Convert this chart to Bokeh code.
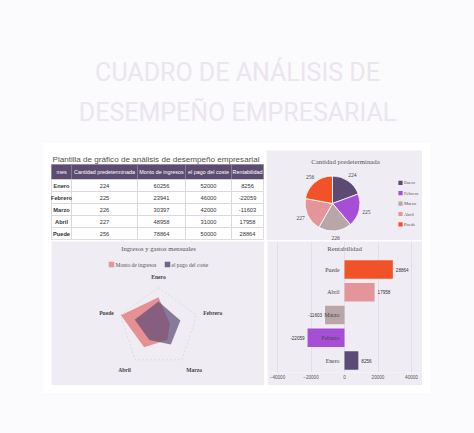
import numpy as np
import pandas as pd
from bokeh.plotting import figure
from bokeh.models import ColumnDataSource, Range1d, Spacer, FixedTicker
from bokeh.layouts import row, column
from bokeh.embed import file_html
from bokeh.resources import INLINE
from bokeh.core.properties import value

# ---------------- data ----------------
title_lines = ["CUADRO DE ANÁLISIS DE", "DESEMPEÑO EMPRESARIAL"]
table_title = "Plantilla de gráfico de análisis de desempeño empresarial"
headers = ["mes", "Cantidad predeterminada", "Monto de ingresos", "el pago del coste", "Rentabilidad"]
months = ["Enero", "Febrero", "Marzo", "Abril", "Puede"]
cantidad = [224, 225, 226, 227, 256]
ingresos = [60256, 23941, 30397, 48958, 78864]
coste = [52000, 46000, 42000, 31000, 50000]
rentabilidad = [8256, -22059, -11603, 17958, 28864]
pie_title = "Cantidad predeterminada"
radar_title = "Ingresos y gastos mensuales"
radar_series = ["Monto de ingresos", "el pago del coste"]
radar_max = 80000
bar_title = "Rentabilidad"
bar_ticks = [-40000, -20000, 0, 20000, 40000]

# ---------------- styles ----------------
OUTER = "#fbfafd"
PANEL = "#efedf3"
HEAD = "#5b4c70"
month_colors = ["#5c4a74", "#a64fd6", "#b8a6a8", "#e3959a", "#f25227"]
series_colors = ["#e3868a", "#5c4a74"]
series_alpha = [0.9, 0.7]
SERIF = value("Liberation Serif")
SANS = value("Liberation Sans")


def make_fig(w, h, xr, yr, bg):
    return figure(frame_width=w, frame_height=h, x_range=xr, y_range=yr,
                  x_axis_type=None, y_axis_type=None, title=None,
                  toolbar_location=None, output_backend="svg", min_border=0,
                  background_fill_color=bg, border_fill_color=bg,
                  outline_line_color=None)


# ---------------- title band ----------------
tfig = make_fig(474, 143, Range1d(0, 474), Range1d(143, 0), OUTER)
tfig.text(x=[237, 237], y=[72, 112], text=title_lines, text_align="center",
          text_baseline="middle", text_font=value("Roboto"), text_font_size="25px",
          text_color="#ebe5ef")

# ---------------- table ----------------
tab = make_fig(215, 90, Range1d(0, 215), Range1d(90, 0), "#ffffff")
tab.text(x=[2], y=[9], text=[table_title], text_font=SANS, text_font_size="8.1px",
         text_color="#505050", text_baseline="middle")
edges = [1, 21, 87, 135, 181, 213]
head_top, head_h, row_h = 14, 15, 12
col_vals = [months, cantidad, ingresos, coste, rentabilidad]
head_rows, body_rows = [], []
for j in range(len(headers)):
    xa, xb = edges[j], edges[j + 1]
    head_rows.append(dict(x=(xa + xb) / 2, y=head_top + head_h / 2, w=xb - xa,
                          h=head_h, text=headers[j]))
    for i, v in enumerate(col_vals[j]):
        body_rows.append(dict(x=(xa + xb) / 2, y=head_top + head_h + row_h * i + row_h / 2,
                              w=xb - xa, h=row_h, text=str(v),
                              style="bold" if j == 0 else "normal"))
hsrc = ColumnDataSource(pd.DataFrame(head_rows))
bsrc = ColumnDataSource(pd.DataFrame(body_rows))
tab.rect(x="x", y="y", width="w", height="h", source=hsrc, fill_color=HEAD,
         line_color="#8a7d9c", line_width=0.7)
tab.rect(x="x", y="y", width="w", height="h", source=bsrc, fill_color="#ffffff",
         line_color="#d6d2dc", line_width=0.8)
tab.text(x="x", y="y", text="text", source=hsrc, text_align="center",
         text_baseline="middle", text_font=SANS, text_font_size="5.4px",
         text_color="#ffffff")
tab.text(x="x", y="y", text="text", source=bsrc, text_align="center",
         text_baseline="middle", text_font=SANS, text_font_size="5.7px",
         text_color="#333333", text_font_style="style")

# ---------------- pie ----------------
pie = make_fig(156, 90, Range1d(0, 156), Range1d(0, 90), PANEL)
pcx, pcy, pr = 66, 37, 27.5
pdf = pd.DataFrame({"mes": months, "v": cantidad, "color": month_colors})
frac = pdf["v"] / pdf["v"].sum()
cum = frac.cumsum()
pdf["start"] = np.pi / 2 - (cum - frac) * 2 * np.pi
pdf["end"] = np.pi / 2 - cum * 2 * np.pi
mid = (pdf["start"] + pdf["end"]) / 2
pdf["lx"] = pcx + 35 * np.cos(mid)
pdf["ly"] = pcy + 35 * np.sin(mid)
pdf["txt"] = pdf["v"].astype(str)
pdf["gy"] = 57.7 - 10.4 * np.arange(len(months))
psrc = ColumnDataSource(pdf)
pie.wedge(x=pcx, y=pcy, radius=pr, start_angle="start", end_angle="end",
          direction="clock", fill_color="color", line_color="#ffffff",
          line_width=0.8, source=psrc)
pie.text(x="lx", y="ly", text="txt", source=psrc, text_align="center",
         text_baseline="middle", text_font=SERIF, text_font_size="5.5px",
         text_color="#444444")
pie.text(x=[79], y=[79], text=[pie_title], text_align="center", text_baseline="middle",
         text_font=SERIF, text_font_size="6.8px", text_color="#555555")
pie.scatter(x=134, y="gy", marker="square", size=4.2, fill_color="color",
            line_color=None, source=psrc)
pie.text(x=137.5, y="gy", text="mes", source=psrc, text_baseline="middle",
         text_font=SERIF, text_font_size="4.6px", text_color="#555555")

# ---------------- radar ----------------
k = radar_max / 40.0
rad = make_fig(213, 144, Range1d(-107 * k, 106 * k), Range1d(-58 * k, 86 * k), PANEL)
n = len(months)
ang = np.pi / 2 - 2 * np.pi * np.arange(n) / n
ring = np.append(ang, ang[0])
rad.line(x=radar_max * np.cos(ring), y=radar_max * np.sin(ring), line_dash="2 2",
         line_color="#d8d4de", line_width=0.8)
for vals, col, al in zip([ingresos, coste], series_colors, series_alpha):
    v = np.array(vals, dtype=float)
    rad.patch(x=v * np.cos(ang), y=v * np.sin(ang), fill_color=col, fill_alpha=al,
              line_color=None)
lab_r = 47 * k
c, s = np.cos(ang), np.sin(ang)
dy = np.where(s > 0.9, 3.5, np.where(s < -0.5, -4.5, 0.0)) * k
rdf = pd.DataFrame({"mes": months, "x": lab_r * c, "y": lab_r * s + dy})
left = ColumnDataSource(rdf[c > 0.2])
right = ColumnDataSource(rdf[c < -0.2])
center = ColumnDataSource(rdf[np.abs(c) <= 0.2])
for src, al in [(left, "left"), (right, "right"), (center, "center")]:
    rad.text(x="x", y="y", text="mes", source=src, text_align=al,
             text_baseline="middle", text_font=SERIF, text_font_size="5.6px",
             text_color="#444444", text_font_style="bold")
rad.text(x=[0], y=[79 * k], text=[radar_title], text_align="center",
         text_baseline="middle", text_font=SERIF, text_font_size="6.6px",
         text_color="#555555")
lg = pd.DataFrame({"name": radar_series, "color": series_colors,
                   "sx": [-47 * k, 9 * k], "tx": [-43 * k, 13 * k], "y": [63 * k, 63 * k]})
lsrc = ColumnDataSource(lg)
rad.scatter(x="sx", y="y", marker="square", size=5.5, fill_color="color",
            line_color=None, fill_alpha=0.85, source=lsrc)
rad.text(x="tx", y="y", text="name", source=lsrc, text_baseline="middle",
         text_font=SERIF, text_font_size="5.5px", text_color="#555555")

# ---------------- bar ----------------
ppu = 67 / 40000.0
cat_px = 22.75
bar = figure(frame_width=155, frame_height=131, title=None,
             x_range=Range1d(-77 / ppu, 78 / ppu),
             y_range=Range1d(-12 / cat_px, len(months) - 1 + 28 / cat_px),
             y_axis_type=None, toolbar_location=None, output_backend="svg",
             min_border_left=0, min_border_right=0, min_border_top=0,
             min_border_bottom=13, background_fill_color=PANEL,
             border_fill_color=PANEL, outline_line_color=None)
bdf = pd.DataFrame({"mes": months, "r": rentabilidad, "color": month_colors,
                    "idx": np.arange(len(months))})
bdf["txt"] = bdf["r"].astype(str)
bsrc2 = ColumnDataSource(bdf)
bar.hbar(y="idx", left=0, right="r", height=0.82, fill_color="color",
         line_color=None, source=bsrc2)
bar.text(x=0, y="idx", text="mes", source=bsrc2, x_offset=-5, text_align="right",
         text_baseline="middle", text_font=SERIF, text_font_size="5.8px",
         text_color="#444444")
pos = ColumnDataSource(bdf[bdf["r"] >= 0])
neg = ColumnDataSource(bdf[bdf["r"] < 0])
bar.text(x="r", y="idx", text="txt", source=pos, x_offset=3, text_align="left",
         text_baseline="middle", text_font=SANS, text_font_size="4.6px",
         text_color="#333333")
bar.text(x="r", y="idx", text="txt", source=neg, x_offset=-3, text_align="right",
         text_baseline="middle", text_font=SANS, text_font_size="4.6px",
         text_color="#333333")
bar.text(x=[0], y=[len(months) - 1 + 21 / cat_px], text=[bar_title], text_align="center",
         text_baseline="middle", text_font=SERIF, text_font_size="6.8px",
         text_color="#555555")
bar.xaxis.ticker = FixedTicker(ticks=bar_ticks)
bar.xaxis.axis_line_color = None
bar.xaxis.major_tick_line_color = None
bar.xaxis.minor_tick_line_color = None
bar.xaxis.major_tick_out = 0
bar.xaxis.major_tick_in = 0
bar.xaxis.minor_tick_out = 0
bar.xaxis.major_label_text_font_size = "4.6px"
bar.xaxis.major_label_text_color = "#555555"
bar.xaxis.major_label_standoff = 2
bar.xgrid.ticker = FixedTicker(ticks=bar_ticks)
bar.xgrid.grid_line_color = "#dcd9e2"
bar.xgrid.grid_line_width = 0.7
bar.ygrid.visible = False

# ---------------- layout ----------------
top_row = row(Spacer(width=7, height=90), tab, Spacer(width=1, height=90), pie,
              Spacer(width=8, height=90))
bottom_row = row(Spacer(width=8, height=144), rad, Spacer(width=3, height=144), bar,
                 Spacer(width=8, height=144))
card = column(Spacer(width=387, height=7), top_row, Spacer(width=387, height=1),
              bottom_row, Spacer(width=387, height=8),
              styles={"background-color": "#ffffff"})
middle = row(Spacer(width=43, height=250), card, Spacer(width=44, height=250))
page = column(tfig, middle, Spacer(width=474, height=40),
              styles={"background-color": OUTER})

open("out.html", "w").write(file_html(page, INLINE))
